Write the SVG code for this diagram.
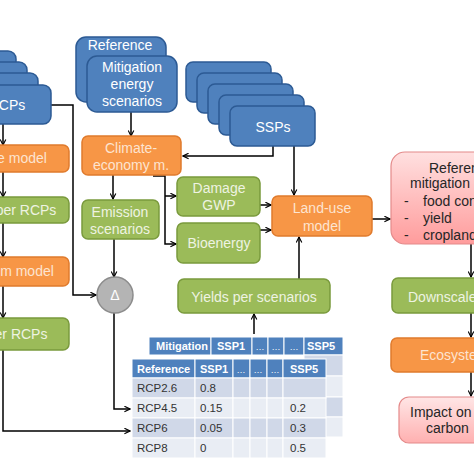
<svg xmlns="http://www.w3.org/2000/svg" width="474" height="474" viewBox="0 0 474 474">
<defs>
<marker id="ah" viewBox="0 0 10 10" refX="9" refY="5" markerWidth="7" markerHeight="7" orient="auto" markerUnits="userSpaceOnUse">
<path d="M1,1 L9,5 L1,9" fill="none" stroke="#000" stroke-width="1.6"/>
</marker>
<linearGradient id="pink" x1="0" y1="0" x2="0" y2="1">
<stop offset="0" stop-color="#ffe0e0"/><stop offset="1" stop-color="#ff9c9c"/>
</linearGradient>
<linearGradient id="pink2" x1="0" y1="0" x2="0" y2="1">
<stop offset="0" stop-color="#ffe6e6"/><stop offset="1" stop-color="#ffb0b0"/>
</linearGradient>
</defs>
<style>
.blue{fill:#4f81bd;stroke:#2c5a94;stroke-width:1.5}
.org{fill:#f79646;stroke:#e07b2d;stroke-width:1.5}
.grn{fill:#9bbb59;stroke:#7a9a3d;stroke-width:1.5}
.pk{fill:url(#pink);stroke:#e48a8a;stroke-width:1.2}
.pk2{fill:url(#pink2);stroke:#e48a8a;stroke-width:1.2}
text{font-family:"Liberation Sans",Arial,sans-serif;font-size:14px}
.w{fill:#ffffff;text-anchor:middle}
.lo{fill:#fde4d0;text-anchor:middle}
.lg{fill:#eef3e2;text-anchor:middle}
.dk{fill:#262626}
.c{stroke:#000;stroke-width:1.5;fill:none}
.th{font-size:11px;font-weight:bold;fill:#fff}
.td{font-size:11.5px;fill:#333}
.dots{font-size:9px;fill:#fff;text-anchor:middle}
.hd{fill:#4f81bd;stroke:#fff;stroke-width:1}
.r1{fill:#d0d8e8;stroke:#fff;stroke-width:1}
.r2{fill:#e9edf4;stroke:#fff;stroke-width:1}
</style>

<g id="connectors">
<path class="c" d="M51,105 H73 V295 H96" marker-end="url(#ah)"/>
<path class="c" d="M3,124 V145" stroke-width="2.5" marker-end="url(#ah)"/>
<path class="c" d="M3,172 V197" stroke-width="2.5" marker-end="url(#ah)"/>
<path class="c" d="M3,223 V257" stroke-width="2.5" marker-end="url(#ah)"/>
<path class="c" d="M3,286 V318" stroke-width="2.5" marker-end="url(#ah)"/>
<path class="c" d="M3,350 V431 H130" marker-end="url(#ah)"/>
<path class="c" d="M131,112 V136" marker-end="url(#ah)"/>
<path class="c" d="M273,146 V156 H183" marker-end="url(#ah)"/>
<path class="c" d="M294,146 V195" marker-end="url(#ah)"/>
<path class="c" d="M113,175 V199" marker-end="url(#ah)"/>
<path class="c" d="M153,176 H165 V244 H176" marker-end="url(#ah)"/>
<path class="c" d="M165,196 H176" marker-end="url(#ah)"/>
<path class="c" d="M114,239 V277" marker-end="url(#ah)"/>
<path class="c" d="M114,313 V409 H130" marker-end="url(#ah)"/>
<path class="c" d="M260,205 H271" marker-end="url(#ah)"/>
<path class="c" d="M260,230 H271" marker-end="url(#ah)"/>
<path class="c" d="M299,279 V237" marker-end="url(#ah)"/>
<path class="c" d="M254,334 V314" marker-end="url(#ah)"/>
<path class="c" d="M372,219 H390" marker-end="url(#ah)"/>
<path class="c" d="M471,244 V277" marker-end="url(#ah)"/>
<path class="c" d="M471,313 V337" marker-end="url(#ah)"/>
<path class="c" d="M471,372 V396" marker-end="url(#ah)"/>
</g>

<g id="rcps">
<rect class="blue" x="-60" y="51" width="76" height="39" rx="8"/>
<rect class="blue" x="-49" y="62" width="76" height="39" rx="8"/>
<rect class="blue" x="-38" y="73" width="76" height="39" rx="8"/>
<rect class="blue" x="-25" y="85" width="76" height="39" rx="8"/>
<text class="w" x="12" y="110">CPs</text>
</g>

<g id="left-model-1">
<rect class="org" x="-40" y="145" width="109" height="27" rx="6"/>
<text class="lo" x="22" y="163">e model</text>
</g>
<g id="left-per-rcps-1">
<rect class="grn" x="-40" y="197" width="109" height="26" rx="6"/>
<text class="lg" x="26" y="215">per RCPs</text>
</g>
<g id="left-model-2">
<rect class="org" x="-40" y="257" width="109" height="29" rx="6"/>
<text class="lo" x="27" y="276">m model</text>
</g>
<g id="left-per-rcps-2">
<rect class="grn" x="-40" y="318" width="109" height="32" rx="6"/>
<text class="lg" x="21" y="339">er RCPs</text>
</g>

<g id="reference-mitigation">
<rect class="blue" x="76" y="37" width="90" height="65" rx="10"/>
<text class="w" x="120" y="50">Reference</text>
<rect class="blue" x="87" y="56" width="90" height="56" rx="10"/>
<text class="w" x="132" y="72">Mitigation</text>
<text class="w" x="132" y="89">energy</text>
<text class="w" x="132" y="106">scenarios</text>
</g>

<g id="ssps">
<rect class="blue" x="186" y="62" width="85" height="40" rx="7"/>
<rect class="blue" x="197" y="73" width="85" height="40" rx="7"/>
<rect class="blue" x="208" y="84" width="85" height="40" rx="7"/>
<rect class="blue" x="219" y="95" width="85" height="40" rx="7"/>
<rect class="blue" x="230" y="106" width="85" height="40" rx="7"/>
<text class="w" x="273" y="132">SSPs</text>
</g>

<g id="climate-economy">
<rect class="org" x="82" y="136" width="99" height="39" rx="6"/>
<text class="lo" x="131" y="153">Climate-</text>
<text class="lo" x="131" y="170">economy m.</text>
</g>

<g id="emission">
<rect class="grn" x="82" y="200" width="77" height="39" rx="6"/>
<text class="lg" x="120" y="217">Emission</text>
<text class="lg" x="120" y="234">scenarios</text>
</g>

<g id="damage">
<rect class="grn" x="177" y="177" width="83" height="39" rx="6"/>
<text class="lg" x="219" y="193">Damage</text>
<text class="lg" x="219" y="210">GWP</text>
</g>

<g id="bioenergy">
<rect class="grn" x="177" y="223" width="83" height="40" rx="6"/>
<text class="lg" x="219" y="248">Bioenergy</text>
</g>

<g id="land-use">
<rect class="org" x="272" y="196" width="100" height="40" rx="6"/>
<text class="lo" x="322" y="213">Land-use</text>
<text class="lo" x="322" y="231">model</text>
</g>

<g id="yields">
<rect class="grn" x="178" y="279" width="152" height="34" rx="6"/>
<text class="lg" x="254" y="302">Yields per scenarios</text>
</g>

<g id="delta">
<circle cx="115" cy="295" r="18" fill="#b4b4b4" stroke="#8c8c8c" stroke-width="1.5"/>
<text class="w" x="115" y="300" font-size="13">Δ</text>
</g>

<g id="mitigation-table">
<rect class="hd" x="149" y="337" width="62" height="18"/>
<rect class="hd" x="211" y="337" width="41" height="18"/>
<rect class="hd" x="252" y="337" width="16" height="18"/>
<rect class="hd" x="268" y="337" width="16" height="18"/>
<rect class="hd" x="284" y="337" width="20" height="18"/>
<rect class="hd" x="304" y="337" width="39" height="18"/>
<rect class="r1" x="304" y="355" width="39" height="21"/>
<rect class="r2" x="304" y="376" width="39" height="21"/>
<rect class="r1" x="304" y="397" width="39" height="20"/>
<rect class="r2" x="304" y="417" width="39" height="20"/>
<text class="th" x="156" y="350">Mitigation</text>
<text class="th" x="217" y="350">SSP1</text>
<text class="dots" x="260" y="350">…</text>
<text class="dots" x="276" y="350">…</text>
<text class="dots" x="294" y="350">…</text>
<text class="th" x="307" y="350">SSP5</text>
</g>

<g id="reference-table">
<rect class="hd" x="132" y="359" width="63" height="19"/>
<rect class="hd" x="195" y="359" width="38" height="19"/>
<rect class="hd" x="233" y="359" width="17" height="19"/>
<rect class="hd" x="250" y="359" width="17" height="19"/>
<rect class="hd" x="267" y="359" width="16" height="19"/>
<rect class="hd" x="283" y="359" width="43" height="19"/>
<g class="rowA">
<rect class="r1" x="132" y="378" width="63" height="20"/><rect class="r1" x="195" y="378" width="38" height="20"/><rect class="r1" x="233" y="378" width="17" height="20"/><rect class="r1" x="250" y="378" width="17" height="20"/><rect class="r1" x="267" y="378" width="16" height="20"/><rect class="r1" x="283" y="378" width="43" height="20"/>
<rect class="r2" x="132" y="398" width="63" height="20"/><rect class="r2" x="195" y="398" width="38" height="20"/><rect class="r2" x="233" y="398" width="17" height="20"/><rect class="r2" x="250" y="398" width="17" height="20"/><rect class="r2" x="267" y="398" width="16" height="20"/><rect class="r2" x="283" y="398" width="43" height="20"/>
<rect class="r1" x="132" y="418" width="63" height="20"/><rect class="r1" x="195" y="418" width="38" height="20"/><rect class="r1" x="233" y="418" width="17" height="20"/><rect class="r1" x="250" y="418" width="17" height="20"/><rect class="r1" x="267" y="418" width="16" height="20"/><rect class="r1" x="283" y="418" width="43" height="20"/>
<rect class="r2" x="132" y="438" width="63" height="20"/><rect class="r2" x="195" y="438" width="38" height="20"/><rect class="r2" x="233" y="438" width="17" height="20"/><rect class="r2" x="250" y="438" width="17" height="20"/><rect class="r2" x="267" y="438" width="16" height="20"/><rect class="r2" x="283" y="438" width="43" height="20"/>
</g>
<text class="th" x="137" y="373">Reference</text>
<text class="th" x="200" y="373">SSP1</text>
<text class="dots" x="241" y="373">…</text>
<text class="dots" x="258" y="373">…</text>
<text class="dots" x="275" y="373">…</text>
<text class="th" x="290" y="373">SSP5</text>
<text class="td" x="137" y="392">RCP2.6</text>
<text class="td" x="200" y="392">0.8</text>
<text class="td" x="137" y="412">RCP4.5</text>
<text class="td" x="200" y="412">0.15</text>
<text class="td" x="290" y="412">0.2</text>
<text class="td" x="137" y="432">RCP6</text>
<text class="td" x="200" y="432">0.05</text>
<text class="td" x="290" y="432">0.3</text>
<text class="td" x="137" y="452">RCP8</text>
<text class="td" x="200" y="452">0</text>
<text class="td" x="290" y="452">0.5</text>
</g>

<g id="reference-mitigation-results">
<rect class="pk" x="391" y="152" width="120" height="92" rx="14"/>
<text class="dk" x="429" y="173">Reference</text>
<text class="dk" x="410" y="188">mitigation</text>
<text class="dk" x="404" y="206">-</text>
<text class="dk" x="423" y="206">food con</text>
<text class="dk" x="404" y="223">-</text>
<text class="dk" x="423" y="223">yield</text>
<text class="dk" x="404" y="240">-</text>
<text class="dk" x="423" y="240">cropland</text>
</g>

<g id="downscale">
<rect class="grn" x="392" y="278" width="110" height="35" rx="6"/>
<text class="lg" x="408" y="302" text-anchor="start" style="text-anchor:start">Downscale</text>
</g>

<g id="ecosystem">
<rect class="org" x="391" y="338" width="110" height="34" rx="6"/>
<text class="lo" x="420" y="360" style="text-anchor:start">Ecosystem</text>
</g>

<g id="impact">
<rect class="pk2" x="399" y="397" width="110" height="46" rx="10"/>
<text class="dk" x="410" y="417">Impact on</text>
<text class="dk" x="426" y="433">carbon</text>
</g>
</svg>
